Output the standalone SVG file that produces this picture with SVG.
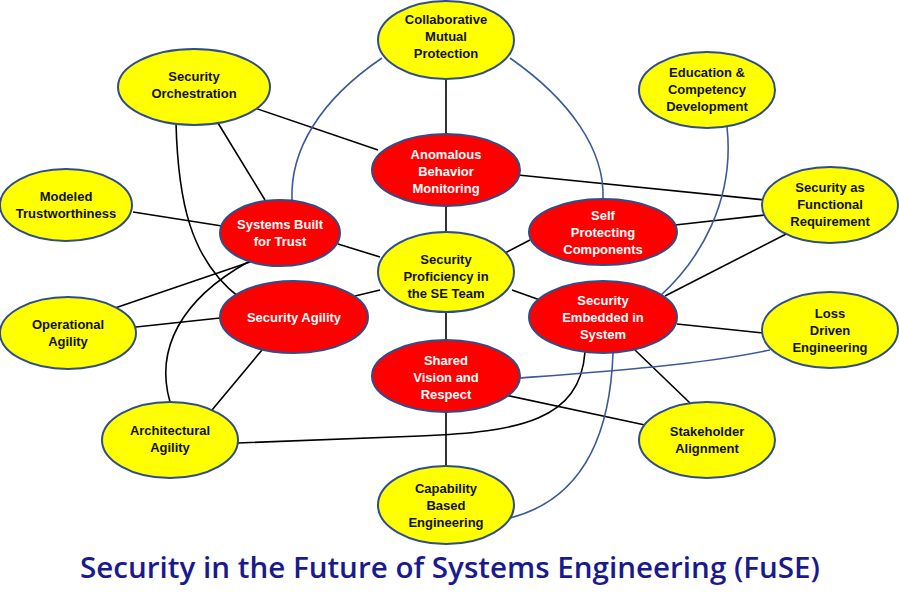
<svg xmlns="http://www.w3.org/2000/svg" width="899" height="607" viewBox="0 0 899 607">
<style>
.y{fill:#ffff00;stroke:#2f4d8a;stroke-width:2}
.r{fill:#ff0000;stroke:#2f4d8a;stroke-width:2}
.t{font-family:"Liberation Sans",Arial,sans-serif;font-weight:bold;font-size:13px;text-anchor:middle}
.ty{fill:#111}
.tr{fill:#fff}
.k{stroke:#000;stroke-width:1.6;fill:none}
.b{stroke:#3b5a9a;stroke-width:1.6;fill:none}
</style>
<rect width="899" height="607" fill="#fff"/>
<g id="connectors">
<path class="k" d="M446,80V134M243,104L378,150M218,123L265,200M518,175L765,200M446,206V232M133,212L222,226M338,244L380,257M250,262L115,308M675,225L765,215M530,240L505,253M790,232L665,296M136,327L220,318M380,290L355,296M512,290L540,300M446,312V340M677,324L763,333M635,350L690,403M262,350L212,410M505,395L645,425M446,412V465"/>
<path class="k" d="M176,123C178,200 190,260 240,298"/>
<path class="k" d="M248,262C180,300 155,350 170,402"/>
<path class="k" d="M585,352C580,420 520,432 420,436L238,443"/>
<path class="b" d="M382,58C320,100 290,150 292,200"/>
<path class="b" d="M510,58C570,100 605,150 603,199"/>
<path class="b" d="M727,127C735,200 700,260 660,296"/>
<path class="b" d="M770,350C700,365 600,372 520,378"/>
<path class="b" d="M613,353C610,440 580,500 510,518"/>
</g>
<g id="n1"><ellipse class="y" cx="446" cy="40" rx="68" ry="39"/><text class="t ty" x="446" y="24">Collaborative<tspan x="446" dy="17">Mutual</tspan><tspan x="446" dy="17">Protection</tspan></text></g>
<g id="n2"><ellipse class="y" cx="194" cy="87" rx="76" ry="38"/><text class="t ty" x="194" y="81">Security<tspan x="194" dy="17">Orchestration</tspan></text></g>
<g id="n3"><ellipse class="y" cx="707" cy="90" rx="68" ry="38"/><text class="t ty" x="707" y="77">Education &amp;<tspan x="707" dy="17">Competency</tspan><tspan x="707" dy="17">Development</tspan></text></g>
<g id="n4"><ellipse class="r" cx="446" cy="170" rx="74" ry="36"/><text class="t tr" x="446" y="159">Anomalous<tspan x="446" dy="17">Behavior</tspan><tspan x="446" dy="17">Monitoring</tspan></text></g>
<g id="n5"><ellipse class="y" cx="66" cy="205" rx="66" ry="36"/><text class="t ty" x="66" y="201">Modeled<tspan x="66" dy="17">Trustworthiness</tspan></text></g>
<g id="n6"><ellipse class="r" cx="280" cy="233" rx="60" ry="33"/><text class="t tr" x="280" y="229">Systems Built<tspan x="280" dy="17">for Trust</tspan></text></g>
<g id="n7"><ellipse class="y" cx="446" cy="272" rx="68" ry="40"/><text class="t ty" x="446" y="264">Security<tspan x="446" dy="17">Proficiency in</tspan><tspan x="446" dy="17">the SE Team</tspan></text></g>
<g id="n8"><ellipse class="r" cx="603" cy="232" rx="74" ry="33"/><text class="t tr" x="603" y="220">Self<tspan x="603" dy="17">Protecting</tspan><tspan x="603" dy="17">Components</tspan></text></g>
<g id="n9"><ellipse class="y" cx="830" cy="205" rx="68" ry="38"/><text class="t ty" x="830" y="192">Security as<tspan x="830" dy="17">Functional</tspan><tspan x="830" dy="17">Requirement</tspan></text></g>
<g id="n10"><ellipse class="y" cx="68" cy="333" rx="68" ry="36"/><text class="t ty" x="68" y="329">Operational<tspan x="68" dy="17">Agility</tspan></text></g>
<g id="n11"><ellipse class="r" cx="294" cy="317" rx="74" ry="36"/><text class="t tr" x="294" y="322">Security Agility</text></g>
<g id="n12"><ellipse class="r" cx="603" cy="317" rx="74" ry="36"/><text class="t tr" x="603" y="305">Security<tspan x="603" dy="17">Embedded in</tspan><tspan x="603" dy="17">System</tspan></text></g>
<g id="n13"><ellipse class="y" cx="830" cy="330" rx="68" ry="38"/><text class="t ty" x="830" y="318">Loss<tspan x="830" dy="17">Driven</tspan><tspan x="830" dy="17">Engineering</tspan></text></g>
<g id="n14"><ellipse class="r" cx="446" cy="376" rx="74" ry="36"/><text class="t tr" x="446" y="365">Shared<tspan x="446" dy="17">Vision and</tspan><tspan x="446" dy="17">Respect</tspan></text></g>
<g id="n15"><ellipse class="y" cx="170" cy="440" rx="68" ry="38"/><text class="t ty" x="170" y="435">Architectural<tspan x="170" dy="17">Agility</tspan></text></g>
<g id="n16"><ellipse class="y" cx="707" cy="440" rx="68" ry="38"/><text class="t ty" x="707" y="436">Stakeholder<tspan x="707" dy="17">Alignment</tspan></text></g>
<g id="n17"><ellipse class="y" cx="446" cy="505" rx="68" ry="39"/><text class="t ty" x="446" y="493">Capability<tspan x="446" dy="17">Based</tspan><tspan x="446" dy="17">Engineering</tspan></text></g>
<text x="450" y="578" font-family="'Open Sans','Liberation Sans',sans-serif" font-size="28" font-weight="600" fill="#1a1a8e" text-anchor="middle" textLength="740" lengthAdjust="spacingAndGlyphs">Security in the Future of Systems Engineering (FuSE)</text>
</svg>
